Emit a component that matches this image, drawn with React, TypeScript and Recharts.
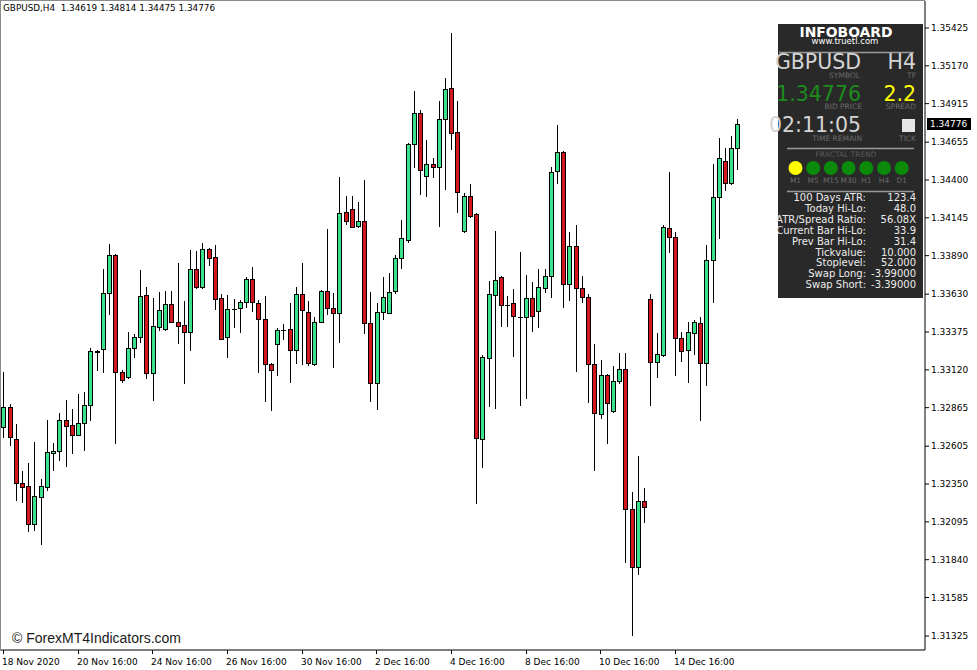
import React from "react";
import { ComposedChart, Bar, XAxis, YAxis, ReferenceLine } from "recharts";

const OPEN = [1.32735,1.32869,1.32654,1.32357,1.32337,1.3208,1.32263,1.3233,1.32559,1.32573,1.32782,1.32748,1.32681,1.32762,1.32883,1.3324,1.33261,1.33638,1.33894,1.33105,1.33072,1.33267,1.33341,1.33625,1.33099,1.33409,1.33396,1.33564,1.33443,1.33422,1.33375,1.338,1.33679,1.33935,1.33881,1.33604,1.33341,1.3353,1.33537,1.33577,1.33733,1.33571,1.33463,1.33159,1.33294,1.33389,1.33396,1.33254,1.33631,1.3351,1.33159,1.33443,1.33652,1.33537,1.33503,1.34184,1.34205,1.3409,1.34124,1.33436,1.33031,1.3351,1.33503,1.33652,1.33874,1.33996,1.34643,1.34852,1.34427,1.34508,1.34488,1.34811,1.35021,1.34724,1.34056,1.34292,1.34171,1.32654,1.332,1.33625,1.33746,1.33557,1.33571,1.33476,1.33476,1.33604,1.33517,1.33672,1.33753,1.34461,1.34589,1.33699,1.33955,1.33672,1.33611,1.33159,1.32822,1.33085,1.32842,1.33045,1.33126,1.32182,1.31791,1.32236,1.33598,1.33173,1.3322,1.34076,1.34016,1.33335,1.33254,1.33368,1.33436,1.33166,1.33861,1.34285,1.34528,1.3438,1.34619];
const HIGH = [1.33105,1.3289,1.32755,1.32438,1.32492,1.32633,1.32384,1.32782,1.32626,1.32829,1.32917,1.32856,1.32957,1.32971,1.33267,1.33254,1.338,1.33969,1.33901,1.33119,1.33375,1.33362,1.33793,1.33679,1.33604,1.33645,1.33652,1.33652,1.3384,1.33584,1.33928,1.33921,1.33975,1.33942,1.33962,1.33631,1.33625,1.33598,1.33591,1.33746,1.33813,1.33591,1.33618,1.33166,1.33402,1.33429,1.33571,1.33679,1.3384,1.33584,1.33476,1.33655,1.3407,1.33638,1.3442,1.34292,1.34292,1.34252,1.344,1.33645,1.33571,1.33746,1.33773,1.33894,1.3413,1.34647,1.35,1.34872,1.3467,1.34548,1.34933,1.35088,1.35391,1.34933,1.34312,1.34373,1.34175,1.3322,1.33719,1.34056,1.3375,1.33618,1.33665,1.33915,1.3376,1.33712,1.338,1.338,1.34488,1.34771,1.34593,1.34049,1.34097,1.33753,1.33631,1.33294,1.33186,1.33089,1.33146,1.33234,1.33234,1.32296,1.32539,1.32323,1.33631,1.33368,1.34097,1.34454,1.34049,1.33375,1.33443,1.33456,1.33476,1.33962,1.34508,1.34683,1.34616,1.34697,1.34814];
const LOW = [1.32667,1.32613,1.32242,1.32229,1.32033,1.3204,1.31946,1.3231,1.32445,1.32512,1.32472,1.32559,1.32678,1.32579,1.32782,1.33119,1.33105,1.33497,1.32626,1.33038,1.33068,1.33207,1.33308,1.33065,1.32917,1.33389,1.33392,1.3344,1.33301,1.33031,1.33254,1.33675,1.33675,1.33827,1.3353,1.33325,1.33207,1.33409,1.33375,1.33544,1.33517,1.33105,1.3291,1.32849,1.33085,1.33328,1.33038,1.33166,1.33159,1.33153,1.33155,1.3344,1.33497,1.33139,1.33308,1.34103,1.3408,1.34086,1.33368,1.3291,1.32856,1.33463,1.335,1.33638,1.33807,1.33982,1.34488,1.34306,1.34292,1.3442,1.3409,1.34339,1.34609,1.34184,1.34052,1.34151,1.32222,1.32465,1.32876,1.32863,1.33416,1.33416,1.33213,1.32883,1.3293,1.33382,1.33409,1.33645,1.33611,1.3438,1.33544,1.33591,1.33112,1.33577,1.32903,1.32445,1.32795,1.32626,1.32836,1.33031,1.31824,1.31332,1.31743,1.32094,1.32883,1.33072,1.33216,1.33915,1.33085,1.3318,1.33038,1.33227,1.32782,1.33018,1.33577,1.34009,1.34333,1.34376,1.34475];
const CLOSE = [1.32869,1.32667,1.32357,1.3233,1.3208,1.32269,1.32337,1.32566,1.32573,1.32782,1.32741,1.32681,1.32762,1.32883,1.33247,1.33247,1.33638,1.33894,1.33105,1.33052,1.33267,1.33341,1.33618,1.33099,1.33416,1.33523,1.33564,1.33443,1.33416,1.33375,1.338,1.33679,1.33935,1.33874,1.33598,1.33328,1.3353,1.33533,1.33577,1.33733,1.33577,1.33463,1.33159,1.33119,1.33389,1.33392,1.33254,1.33631,1.33523,1.33166,1.33443,1.33652,1.33537,1.33503,1.34178,1.34124,1.34083,1.34124,1.33436,1.33031,1.3351,1.33611,1.33645,1.33874,1.34009,1.34643,1.34852,1.34468,1.34508,1.34488,1.34811,1.35014,1.34717,1.34319,1.34292,1.34157,1.3266,1.33207,1.33631,1.33726,1.33557,1.3356,1.33483,1.33479,1.33604,1.33483,1.33679,1.33753,1.34454,1.34589,1.33699,1.33955,1.33672,1.33611,1.33159,1.32829,1.33085,1.32896,1.33045,1.33126,1.32182,1.31791,1.32236,1.32195,1.33173,1.33227,1.34083,1.34016,1.33335,1.33247,1.33375,1.33443,1.33166,1.33861,1.34285,1.34548,1.3438,1.34616,1.34776];

const TIME_TICK_BARS = [0, 12, 24, 36, 48, 60, 72, 84, 96, 108];
const TIME_LABELS = ["18 Nov 2020", "20 Nov 16:00", "24 Nov 16:00", "26 Nov 16:00", "30 Nov 16:00", "2 Dec 16:00", "4 Dec 16:00", "8 Dec 16:00", "10 Dec 16:00", "14 Dec 16:00"];
const PRICE_TICKS = [1.35425, 1.3517, 1.34915, 1.34655, 1.344, 1.34145, 1.3389, 1.3363, 1.33375, 1.3312, 1.32865, 1.32605, 1.3235, 1.32095, 1.3184, 1.31585, 1.31325];

const SYMBOL = "GBPUSD";
const TIMEFRAME = "H4";
const BID = "1.34776";
const SPREAD = "2.2";
const TIME_REMAIN = "02:11:05";
const TREND_TFS = ["M1", "M5", "M15", "M30", "H1", "H4", "D1"];
const TREND_UP = [false, true, true, true, true, true, true];
const STAT_LABELS = ["100 Days ATR:", "Today Hi-Lo:", "ATR/Spread Ratio:", "Current Bar Hi-Lo:", "Prev Bar Hi-Lo:", "Tickvalue:", "Stoplevel:", "Swap Long:", "Swap Short:"];
const STAT_VALUES = ["123.4", "48.0", "56.08X", "33.9", "31.4", "10.000", "52.000", "-3.99000", "-3.39000"];

const BULL = "#3ae28c";
const BEAR = "#d6161d";
const FONT = "DejaVu Sans";

const DATA = OPEN.map((o, i) => ({ i, o, h: HIGH[i], l: LOW[i], c: CLOSE[i], range: [LOW[i], HIGH[i]] }));

function Candle(props: any) {
  const { x, y, width, height, payload } = props;
  if (!payload || x == null || y == null) return null;
  const { o, h, l, c } = payload;
  const top = Math.min(y, y + height);
  const span = Math.abs(height);
  const yOf = (v: number) => (h === l ? top : top + ((h - v) / (h - l)) * span);
  const cx = Math.round(x + width / 2);
  const bull = c >= o;
  const yo = yOf(o);
  const yc = yOf(c);
  const bTop = Math.round(Math.min(yo, yc));
  const bBot = Math.round(Math.max(yo, yc));
  return (
    <g>
      <line x1={cx + 0.5} x2={cx + 0.5} y1={Math.round(top)} y2={Math.round(top + span) + 1} stroke="#000" strokeWidth={1} />
      {bBot - bTop < 1 ? (
        <line x1={cx - 2} x2={cx + 3} y1={bTop + 0.5} y2={bTop + 0.5} stroke="#000" strokeWidth={1} />
      ) : (
        <rect x={cx - 1.5} y={bTop + 0.5} width={4} height={bBot - bTop} fill={bull ? BULL : BEAR} stroke="#000" strokeWidth={1} />
      )}
    </g>
  );
}

function TimeTick(props: any) {
  const { x, payload } = props;
  const idx = TIME_TICK_BARS.indexOf(payload.value);
  const px = Math.round(x);
  return (
    <g>
      <line x1={px + 0.5} x2={px + 0.5} y1={650} y2={654} stroke="#000" />
      <text x={px - 1} y={665} fontSize={9} fontFamily={FONT} fill="#000">{TIME_LABELS[idx]}</text>
    </g>
  );
}

function PriceTick(props: any) {
  const { y, payload } = props;
  return (
    <text x={931} y={y} dy="0.35em" fontSize={9} fontFamily={FONT} fill="#000">{Number(payload.value).toFixed(5)}</text>
  );
}

function PriceTag(props: any) {
  const vb = props.viewBox || {};
  const yy = Math.round(vb.y);
  return (
    <g>
      <rect x={927} y={yy - 6} width={44} height={12} fill="#000" />
      <text x={930} y={yy} dy="0.35em" fontSize={9} fontFamily={FONT} fill="#fff">{BID}</text>
    </g>
  );
}

function InfoBoard() {
  const lbl = "#6a6a6a";
  const circleX = (k: number) => 795.5 + 17.7 * k;
  return (
    <g fontFamily={FONT}>
      <rect x={778} y={24} width={145} height={274} fill="#292929" />
      <text x={846} y={37} textAnchor="middle" fontSize={14} fontWeight="bold" fill="#ffffff" textLength={93} lengthAdjust="spacingAndGlyphs">INFOBOARD</text>
      <text x={845} y={44} textAnchor="middle" fontSize={8.5} fill="#ffffff">www.truetl.com</text>
      <line x1={779} x2={914} y1={52.5} y2={52.5} stroke="#9a9a9a" strokeWidth={1.5} />
      <text x={861} y={69} textAnchor="end" fontSize={20.5} fill="#d4d4d4">{SYMBOL}</text>
      <text x={916} y={69} textAnchor="end" fontSize={20.5} fill="#d4d4d4">{TIMEFRAME}</text>
      <text x={860} y={78} textAnchor="end" fontSize={7.5} fill={lbl}>SYMBOL</text>
      <text x={916} y={78} textAnchor="end" fontSize={7.5} fill={lbl}>TF</text>
      <text x={861} y={101} textAnchor="end" fontSize={20.5} fill="#1c8c1c">{BID}</text>
      <text x={916} y={101} textAnchor="end" fontSize={20.5} fill="#ffff00">{SPREAD}</text>
      <text x={862} y={109} textAnchor="end" fontSize={7.5} fill={lbl}>BID PRICE</text>
      <text x={916} y={109} textAnchor="end" fontSize={7.5} fill={lbl}>SPREAD</text>
      <text x={861} y={132} textAnchor="end" fontSize={20.5} fill="#d4d4d4">{TIME_REMAIN}</text>
      <rect x={902} y={119} width={13} height={13} fill="#e6e6e6" />
      <text x={862} y={141} textAnchor="end" fontSize={7.5} fill={lbl}>TIME REMAIN</text>
      <text x={916} y={141} textAnchor="end" fontSize={7.5} fill={lbl}>TICK</text>
      <line x1={787} x2={914} y1={148.5} y2={148.5} stroke="#9a9a9a" strokeWidth={1.5} />
      <text x={846} y={157} textAnchor="middle" fontSize={7.5} fill="#5a5a5a">FRACTAL TREND</text>
      {TREND_TFS.map((tf, k) => (
        <g key={tf}>
          <circle cx={circleX(k)} cy={168} r={7} fill={TREND_UP[k] ? "#0b8a0b" : "#ffff00"} />
          <text x={circleX(k)} y={183} textAnchor="middle" fontSize={7.5} fill={lbl}>{tf}</text>
        </g>
      ))}
      <line x1={787} x2={914} y1={191.5} y2={191.5} stroke="#9a9a9a" strokeWidth={1.5} />
      {STAT_LABELS.map((s, k) => (
        <g key={s}>
          <text x={866} y={201 + k * 10.9} textAnchor="end" fontSize={10} fill="#ececec">{s}</text>
          <text x={916} y={201 + k * 10.9} textAnchor="end" fontSize={10} fill="#ececec">{STAT_VALUES[k]}</text>
        </g>
      ))}
    </g>
  );
}

export default function App() {
  return (
    <div style={{ position: "absolute", left: 0, top: 0, width: 977, height: 670, background: "#fff" }}>
      <ComposedChart width={977} height={670} data={DATA} margin={{ top: 1, right: 0, bottom: 0, left: 0 }}>
        <XAxis
          type="number"
          dataKey="i"
          domain={[-0.48, 148.22]}
          allowDataOverflow
          ticks={TIME_TICK_BARS}
          interval={0}
          tick={<TimeTick />}
          tickLine={false}
          axisLine={{ stroke: "#000" }}
          height={20}
        />
        <YAxis
          orientation="right"
          width={52}
          domain={[1.31231, 1.35607]}
          allowDataOverflow
          ticks={PRICE_TICKS}
          interval={0}
          tick={<PriceTick />}
          tickSize={4}
          tickLine={{ stroke: "#000" }}
          axisLine={{ stroke: "#000" }}
        />
        <Bar dataKey="range" shape={<Candle />} barSize={5} isAnimationActive={false} />
        <ReferenceLine y={1.34776} stroke="none" label={<PriceTag />} ifOverflow="visible" />
      </ComposedChart>
      <svg width={977} height={670} style={{ position: "absolute", left: 0, top: 0, pointerEvents: "none" }}>
        <line x1={0.5} x2={0.5} y1={0} y2={650} stroke="#8a8a8a" />
        <line x1={0} x2={925} y1={0.5} y2={0.5} stroke="#8a8a8a" />
        <text x={3} y={11} fontSize={9} fontFamily={FONT} fill="#000" style={{ whiteSpace: "pre" }} textLength={212} lengthAdjust="spacingAndGlyphs">{"GBPUSD,H4  1.34619 1.34814 1.34475 1.34776"}</text>
        <InfoBoard />
        <text x={12} y={643} fontSize={14} fontFamily="Liberation Sans" fill="#1a1a1a">© ForexMT4Indicators.com</text>
      </svg>
    </div>
  );
}
